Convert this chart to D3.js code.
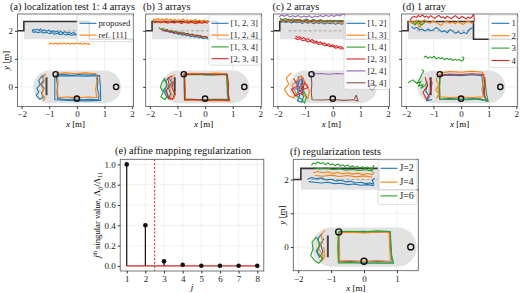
<!DOCTYPE html>
<html><head><meta charset="utf-8">
<script src="https://cdn.jsdelivr.net/npm/d3@7"></script>
<style>
body{margin:0;background:#fff}
svg{font-family:"Liberation Serif","DejaVu Serif",serif}
.tick text{fill:#222}
.tick line{stroke:#333}
</style></head><body><svg id="svg" width="520" height="293"></svg>
<script>
const C = {blue:"#1f77b4", orange:"#ff7f0e", green:"#2ca02c", red:"#d62728", purple:"#9467bd", brown:"#8c564b"};

// scene (metres)
const wall = [[-2.4,2],[-1.92,2],[-1.92,2.33],[0.45,2.33],[0.45,1.7],[2.4,1.7]];
const zone = [[-1.92,1.7],[0.45,2.33]];
const zoneMid = [[-1.6,2.0],[0.4,2.0]];
const bar = [[-1.1,0.34],[-1.1,-0.3]];
const anchors = [[-0.77,0.45],[0,-0.42],[1.42,0]];
const stadium = {x0:-1.0, x1:1.02, r:0.58};
const xTicks = [-2,-1,0,1,2];
const yTicks = [0,1,2];

// (e) singular values
const jIdx = [1,2,3,4,5,6,7,8];
const sv = [1.0,0.40,0.045,0.012,0.002,0.001,0.001,0.0005];
const jCut = 2.5;
const svTicks = [0,0.2,0.4,0.6,0.8,1.0];

// (a)
const a_proposed = [
 [[-1.62,2.0],[-1.58,2.05],[-1.52,2.02],[-1.45,2.06],[-1.38,2.01],[-1.32,2.07],[-1.25,2.0],[-1.18,2.04],[-1.1,1.98],[-1.02,2.03],[-0.95,1.96],[-0.88,2.0],[-0.8,1.95],[-0.72,1.99],[-0.65,1.93],[-0.58,1.98],[-0.5,1.92],[-0.42,1.97],[-0.35,1.91],[-0.28,1.95],[-0.2,1.9],[-0.12,1.94],[-0.04,1.89],[-0.02,1.85],[-0.1,1.87],[-0.2,1.84],[-0.3,1.88],[-0.4,1.85],[-0.5,1.9],[-0.6,1.86],[-0.7,1.91],[-0.8,1.88],[-0.9,1.93],[-1.0,1.9],[-1.1,1.95],[-1.2,1.92],[-1.3,1.97],[-1.4,1.93],[-1.5,1.97],[-1.58,1.94],[-1.62,2.0]],
 [[-1.15,0.42],[-1.28,0.38],[-1.38,0.22],[-1.33,0.08],[-1.45,-0.05],[-1.38,-0.18],[-1.47,-0.3],[-1.35,-0.44],[-1.22,-0.38],[-1.28,-0.2],[-1.18,-0.05],[-1.3,0.1],[-1.2,0.25],[-1.25,0.35]],
 [[-0.76,0.42],[-0.5,0.44],[-0.2,0.41],[0.1,0.44],[0.4,0.42],[0.72,0.44],[0.76,0.2],[0.74,-0.05],[0.8,-0.3],[0.78,-0.46],[0.5,-0.44],[0.2,-0.46],[-0.1,-0.43],[-0.4,-0.45],[-0.7,-0.42],[-0.72,-0.2],[-0.7,0.05],[-0.74,0.3],[-0.76,0.42]],
 [[-0.8,0.38],[-0.3,0.4],[0.3,0.38],[0.82,0.4],[0.85,0],[0.86,-0.48],[0.3,-0.5],[-0.3,-0.48],[-0.8,-0.46],[-0.8,0],[-0.8,0.38]]
];
const a_ref = [
 [[-1.02,1.52],[-0.93,1.56],[-0.85,1.53],[-0.76,1.57],[-0.7,1.52],[-0.61,1.56],[-0.55,1.53],[-0.46,1.57],[-0.4,1.53],[-0.31,1.56],[-0.25,1.52],[-0.16,1.56],[-0.1,1.52],[-0.01,1.57],[0.05,1.53],[0.14,1.56],[0.2,1.52],[0.28,1.56],[0.35,1.53],[0.42,1.55],[0.48,1.49]],
 [[-1.12,0.47],[-1.22,0.35],[-1.18,0.18],[-1.3,0.05],[-1.2,-0.1],[-1.28,-0.25],[-1.15,-0.38],[-1.22,-0.5]],
 [[-0.72,0.48],[-0.4,0.5],[-0.05,0.47],[0.3,0.5],[0.7,0.47],[0.72,0.2],[0.68,-0.1],[0.72,-0.38],[0.4,-0.36],[0.05,-0.39],[-0.3,-0.36],[-0.68,-0.38],[-0.7,-0.1],[-0.68,0.2],[-0.72,0.48]]
];

// (b)
const b_123 = [
 [[-1.5,2.02],[-1.42,1.97],[-1.35,2.0],[-1.27,1.94],[-1.2,1.96],[-1.12,1.9],[-1.05,1.93],[-0.97,1.87],[-0.9,1.9],[-0.82,1.84],[-0.75,1.87],[-0.67,1.82],[-0.6,1.85],[-0.52,1.79],[-0.45,1.82],[-0.37,1.77],[-0.3,1.8],[-0.22,1.74],[-0.15,1.77],[-0.07,1.72],[0.0,1.75],[0.12,1.7]],
 [[-1.3,0.35],[-1.42,0.22],[-1.38,0.05],[-1.5,-0.12],[-1.42,-0.3],[-1.32,-0.42],[-1.25,-0.25],[-1.32,-0.05],[-1.22,0.15],[-1.28,0.3]],
 [[-0.75,0.44],[-0.4,0.46],[0,0.43],[0.4,0.46],[0.8,0.43],[0.82,0.1],[0.8,-0.2],[0.85,-0.46],[0.4,-0.45],[0,-0.47],[-0.4,-0.44],[-0.74,-0.45],[-0.76,0],[-0.75,0.44]]
];
const b_124 = [
 [[-1.9,2.34],[-1.85,2.42],[-1.78,2.38],[-1.7,2.44],[-1.62,2.37],[-1.55,2.43],[-1.48,2.38],[-1.4,2.44],[-1.32,2.37],[-1.25,2.42],[-1.18,2.36],[-1.1,2.41],[-1.02,2.35],[-0.95,2.4],[-0.88,2.36],[-0.8,2.42],[-0.72,2.35],[-0.65,2.4],[-0.58,2.34],[-0.5,2.39],[-0.42,2.35],[-0.35,2.41],[-0.28,2.34],[-0.2,2.38],[-0.12,2.33],[-0.05,2.39],[0.02,2.34],[0.1,2.37],[0.06,2.3],[-0.1,2.32],[-0.25,2.28],[-0.4,2.32],[-0.55,2.29],[-0.7,2.33],[-0.85,2.28],[-1.0,2.32],[-1.15,2.29],[-1.3,2.33],[-1.45,2.29],[-1.6,2.33],[-1.75,2.3],[-1.85,2.32]],
 [[-1.1,0.45],[-1.22,0.32],[-1.18,0.12],[-1.28,-0.08],[-1.2,-0.28],[-1.3,-0.45],[-1.12,-0.4],[-1.08,-0.15]],
 [[-0.78,0.47],[-0.4,0.48],[0,0.46],[0.4,0.49],[0.78,0.46],[0.8,0.15],[0.82,-0.2],[0.9,-0.5],[0.5,-0.48],[0,-0.5],[-0.4,-0.47],[-0.72,-0.48],[-0.72,-0.1],[-0.74,0.25],[-0.78,0.47]]
];
const b_134 = [
 [[-1.68,2.12],[-1.6,2.05],[-1.52,2.09],[-1.45,2.02],[-1.37,2.05],[-1.3,1.98],[-1.22,2.02],[-1.15,1.96],[-1.07,1.99],[-1.0,1.93],[-0.92,1.96],[-0.85,1.9],[-0.77,1.94],[-0.7,1.88],[-0.62,1.91],[-0.55,1.86],[-0.47,1.89],[-0.4,1.83],[-0.32,1.86],[-0.25,1.81],[-0.17,1.84],[-0.1,1.78],[0.0,1.8],[0.1,1.76]],
 [[-1.45,0.32],[-1.55,0.18],[-1.62,0.0],[-1.52,-0.18],[-1.6,-0.35],[-1.45,-0.46],[-1.35,-0.3],[-1.45,-0.1],[-1.38,0.1],[-1.48,0.28]],
 [[-0.74,0.43],[-0.3,0.44],[0.2,0.42],[0.78,0.44],[0.8,0],[0.84,-0.44],[0.3,-0.44],[-0.3,-0.46],[-0.72,-0.43],[-0.74,0.43]]
];
const b_234 = [
 [[-1.85,2.28],[-1.75,2.33],[-1.6,2.29],[-1.5,2.34],[-1.35,2.27],[-1.25,2.32],[-1.1,2.28],[-1.0,2.33],[-0.85,2.26],[-0.75,2.31],[-0.6,2.27],[-0.5,2.32],[-0.35,2.25],[-0.25,2.3],[-0.1,2.27],[0.0,2.31],[0.1,2.27]],
 [[-1.58,2.06],[-1.5,2.0],[-1.4,2.04],[-1.32,1.97],[-1.25,1.99],[-1.15,1.93],[-1.05,1.97],[-0.95,1.9],[-0.85,1.93],[-0.75,1.87],[-0.65,1.9],[-0.55,1.84],[-0.45,1.87],[-0.35,1.81],[-0.25,1.84],[-0.15,1.78],[-0.05,1.8],[0.1,1.77]],
 [[-1.2,0.4],[-1.35,0.3],[-1.3,0.08],[-1.4,-0.15],[-1.32,-0.38],[-1.18,-0.45],[-1.1,-0.25],[-1.2,-0.02],[-1.15,0.2]],
 [[-0.76,0.46],[-0.4,0.45],[0,0.47],[0.4,0.44],[0.8,0.46],[0.85,0.1],[0.84,-0.25],[0.88,-0.48],[0.4,-0.46],[0,-0.48],[-0.4,-0.45],[-0.75,-0.47],[-0.74,-0.05],[-0.76,0.46]]
];

// (c)
const c_12 = [
 [[-1.9,2.3],[-1.8,2.35],[-1.7,2.3],[-1.6,2.34],[-1.5,2.28],[-1.4,2.33],[-1.3,2.29],[-1.2,2.32],[-1.1,2.26],[-1.0,2.31],[-0.9,2.27],[-0.8,2.31],[-0.7,2.25],[-0.6,2.3],[-0.5,2.26],[-0.4,2.3],[-0.3,2.24],[-0.2,2.29],[-0.1,2.25],[0.0,2.29],[0.1,2.23],[0.2,2.28],[0.3,2.24],[0.45,2.26]],
 [[-1.25,0.38],[-1.22,0.15],[-1.3,-0.05],[-1.2,-0.3],[-1.28,-0.5],[-1.12,-0.55],[-1.05,-0.3],[-1.15,0.0],[-1.1,0.2]]
];
const c_13 = [
 [[-1.88,2.38],[-1.78,2.33],[-1.65,2.37],[-1.52,2.32],[-1.4,2.38],[-1.28,2.31],[-1.15,2.36],[-1.02,2.3],[-0.9,2.36],[-0.78,2.29],[-0.65,2.34],[-0.52,2.29],[-0.4,2.35],[-0.28,2.28],[-0.15,2.33],[-0.02,2.28],[0.1,2.34],[0.25,2.28],[0.4,2.31]],
 [[-1.5,0.5],[-1.68,0.32],[-1.6,0.1],[-1.75,-0.1],[-1.6,-0.32],[-1.42,-0.4],[-1.35,-0.18],[-1.48,0.05],[-1.3,0.22],[-1.15,0.4],[-1.0,0.18],[-1.18,-0.05],[-1.05,-0.3],[-0.9,-0.42],[-0.85,-0.15],[-0.95,0.1]]
];
const c_14 = [
 [[-1.92,2.45],[-1.82,2.4],[-1.7,2.44],[-1.58,2.37],[-1.45,2.43],[-1.32,2.36],[-1.2,2.41],[-1.08,2.35],[-0.95,2.42],[-0.82,2.35],[-0.7,2.4],[-0.58,2.34],[-0.45,2.4],[-0.32,2.33],[-0.2,2.38],[-0.08,2.32],[0.05,2.38],[0.18,2.32],[0.3,2.36],[0.45,2.33]],
 [[-1.15,0.28],[-1.32,0.12],[-1.2,-0.12],[-1.35,-0.3],[-1.15,-0.42],[-1.02,-0.58],[-0.95,-0.35],[-1.08,-0.1]]
];
const c_23 = [
 [[-1.35,1.82],[-1.27,1.76],[-1.2,1.79],[-1.12,1.72],[-1.05,1.76],[-0.97,1.69],[-0.9,1.72],[-0.82,1.65],[-0.75,1.69],[-0.67,1.62],[-0.6,1.64],[-0.52,1.57],[-0.45,1.61],[-0.37,1.54],[-0.3,1.57],[-0.22,1.5],[-0.15,1.54],[-0.07,1.47],[0.0,1.5],[0.08,1.44],[0.15,1.47],[0.23,1.41],[0.3,1.44],[0.38,1.37],[0.45,1.39]],
 [[-1.38,1.74],[-1.28,1.69],[-1.2,1.72],[-1.1,1.65],[-1.0,1.67],[-0.9,1.6],[-0.8,1.63],[-0.7,1.56],[-0.6,1.58],[-0.5,1.51],[-0.4,1.54],[-0.3,1.47],[-0.2,1.49],[-0.1,1.43],[0.0,1.45],[0.1,1.38],[0.2,1.41],[0.3,1.35],[0.4,1.36]],
 [[-1.42,0.3],[-1.25,0.05],[-1.5,-0.08],[-1.35,-0.32],[-1.12,-0.22],[-1.02,0.15],[-0.9,-0.02],[-1.2,-0.15]]
];
const c_24 = [
 [[-1.95,2.5],[-1.85,2.56],[-1.75,2.52],[-1.65,2.57],[-1.55,2.49],[-1.45,2.54],[-1.35,2.5],[-1.25,2.55],[-1.15,2.48],[-1.05,2.53],[-0.95,2.49],[-0.85,2.54],[-0.75,2.47],[-0.65,2.53],[-0.55,2.49],[-0.45,2.55],[-0.35,2.5],[-0.25,2.56],[-0.15,2.51],[-0.05,2.56],[0.05,2.51],[0.15,2.57],[0.25,2.53],[0.35,2.59],[0.42,2.62],[0.45,2.48]],
 [[-1.45,-0.1],[-1.2,-0.02],[-1.35,0.15],[-1.1,0.3],[-1.25,-0.2],[-1.05,-0.1]],
 [[-0.75,0.46],[-0.45,0.48],[-0.15,0.45],[0.15,0.48],[0.45,0.46]]
];
const c_34 = [
 [[-1.9,2.4],[-1.75,2.37],[-1.6,2.41],[-1.45,2.36],[-1.3,2.4],[-1.15,2.35],[-1.0,2.39],[-0.85,2.34],[-0.7,2.39],[-0.55,2.34],[-0.4,2.38],[-0.25,2.33],[-0.1,2.38],[0.05,2.34],[0.2,2.37],[0.45,2.36]],
 [[-0.78,0.42],[-0.76,0.1],[-0.78,-0.2],[-0.75,-0.46],[-0.4,-0.47],[0,-0.45],[0.4,-0.48],[0.75,-0.46],[0.92,-0.5],[0.85,-0.3],[0.78,-0.42]]
];

// (d)
const d_1 = [
 [[-1.8,2.15],[-1.7,2.08],[-1.6,2.12],[-1.5,2.03],[-1.4,2.06],[-1.3,1.99],[-1.2,2.07],[-1.1,2.0],[-1.0,2.04],[-0.9,2.12],[-0.8,2.05],[-0.7,1.96],[-0.6,2.0],[-0.5,1.93],[-0.4,2.05],[-0.3,1.98],[-0.2,1.91],[-0.1,1.97],[0.0,1.89],[0.1,1.95],[0.2,1.9],[0.3,2.05],[0.42,2.12]],
 [[-1.2,0.1],[-1.28,-0.15],[-1.15,-0.35],[-1.25,-0.5],[-1.05,-0.45]],
 [[-0.78,0.4],[-0.4,0.42],[0,0.4],[0.4,0.43],[0.75,0.4],[0.8,0.0],[0.82,-0.3],[0.95,-0.5],[0.5,-0.42],[0,-0.44],[-0.4,-0.42],[-0.78,-0.44],[-0.78,0.4]]
];
const d_2 = [
 [[-1.92,2.28],[-1.82,2.36],[-1.72,2.3],[-1.62,2.38],[-1.52,2.24],[-1.42,2.33],[-1.32,2.4],[-1.22,2.3],[-1.12,2.27],[-1.02,2.35],[-0.92,2.31],[-0.82,2.25],[-0.72,2.19],[-0.62,2.3],[-0.52,2.36],[-0.42,2.27],[-0.32,2.31],[-0.22,2.25],[-0.12,2.33],[-0.02,2.27],[0.08,2.23],[0.18,2.31],[0.28,2.35],[0.38,2.27],[0.45,2.29]],
 [[-1.7,2.2],[-1.6,2.35],[-1.5,2.1],[-1.4,2.3]],
 [[-0.82,0.45],[-0.9,0.25],[-0.8,0.08],[-0.92,-0.1],[-0.8,-0.25],[-0.88,-0.4],[-0.78,-0.3],[-0.85,0.05]],
 [[-0.75,0.5],[-0.4,0.55],[0,0.52],[0.4,0.56],[0.78,0.52],[0.8,0.2],[0.76,-0.1],[0.8,-0.35],[0.4,-0.38],[0,-0.36],[-0.4,-0.38],[-0.72,-0.36]]
];
const d_3 = [
 [[-1.8,2.3],[-1.65,2.22],[-1.55,2.38],[-1.45,2.2],[-1.3,2.3]],
 [[-1.35,1.05],[-1.27,1.1],[-1.2,1.02],[-1.12,1.07],[-1.05,1.04],[-0.97,1.09],[-0.9,1.0],[-0.82,1.05],[-0.75,1.01],[-0.67,1.04],[-0.6,0.97],[-0.52,1.02],[-0.45,0.98],[-0.37,1.01],[-0.3,0.94],[-0.22,0.99],[-0.15,0.95],[-0.07,0.98],[0.0,0.92],[0.08,0.95],[0.1,1.04],[0.04,1.08]],
 [[-1.92,0.15],[-1.75,0.25],[-1.6,0.12],[-1.5,0.28],[-1.42,0.45],[-1.35,0.55],[-1.42,0.62]],
 [[-1.6,0.12],[-1.45,0.2],[-1.55,0.02],[-1.38,0.08],[-1.45,-0.05],[-1.3,0.05],[-1.22,0.18]],
 [[-0.75,0.38],[-0.78,0.0],[-0.76,-0.45],[-0.3,-0.44],[0.2,-0.46],[0.7,-0.42],[0.98,-0.52],[0.92,-0.25],[0.88,0.1],[0.86,0.35]]
];
const d_4 = [
 [[-1.85,2.38],[-1.78,2.47],[-1.7,2.52],[-1.62,2.47],[-1.55,2.55],[-1.48,2.5],[-1.4,2.57],[-1.32,2.49],[-1.25,2.53],[-1.18,2.46],[-1.1,2.54],[-1.02,2.48],[-0.95,2.44],[-0.88,2.51],[-0.8,2.55],[-0.72,2.47],[-0.65,2.5],[-0.58,2.44],[-0.5,2.52],[-0.42,2.47],[-0.35,2.43],[-0.28,2.5],[-0.2,2.54],[-0.12,2.46],[-0.05,2.44],[0.02,2.51],[0.1,2.48],[0.18,2.42],[0.25,2.49],[0.33,2.45],[0.4,2.5],[0.46,2.62],[0.48,2.35]],
 [[-1.3,0.35],[-1.22,0.05],[-1.38,-0.2],[-1.25,-0.45],[-1.12,-0.22],[-1.05,0.15],[-1.15,0.32]],
 [[-0.8,0.42],[-0.4,0.46],[0,0.44],[0.4,0.47],[0.82,0.44],[0.86,0.1],[0.84,-0.2],[0.88,-0.45]]
];

// (f)
const f_2 = [
 [[-1.72,2.0],[-1.6,2.06],[-1.45,2.02],[-1.3,2.05],[-1.15,1.99],[-1.0,2.01],[-0.85,1.96],[-0.7,1.98],[-0.55,1.93],[-0.4,1.95],[-0.25,1.9],[-0.1,1.92],[0.05,1.88],[0.2,1.9],[0.3,1.86],[0.25,1.98],[0.32,2.04]],
 [[-1.68,1.94],[-1.5,1.92],[-1.3,1.9],[-1.1,1.92],[-0.9,1.88],[-0.7,1.89],[-0.5,1.85],[-0.3,1.87],[-0.1,1.83],[0.1,1.85],[0.3,1.82]],
 [[-1.28,0.4],[-1.4,0.25],[-1.35,0.05],[-1.45,-0.12],[-1.35,-0.3],[-1.25,-0.15],[-1.32,0.1],[-1.22,0.25]],
 [[-0.76,0.44],[-0.4,0.45],[0,0.47],[0.4,0.44],[0.78,0.46],[0.8,0.1],[0.82,-0.2],[0.86,-0.45],[0.4,-0.43],[0,-0.45],[-0.4,-0.43],[-0.76,-0.44],[-0.77,0.0],[-0.76,0.44]]
];
const f_4 = [
 [[-1.55,2.2],[-1.4,2.24],[-1.25,2.2],[-1.1,2.23],[-0.95,2.18],[-0.8,2.21],[-0.65,2.17],[-0.5,2.2],[-0.35,2.16],[-0.2,2.19],[-0.05,2.15],[0.1,2.18],[0.25,2.14],[0.3,2.22]],
 [[-1.5,2.12],[-1.25,2.1],[-1.0,2.13],[-0.75,2.09],[-0.5,2.12],[-0.25,2.08],[0.0,2.11],[0.25,2.07]],
 [[-1.2,0.5],[-1.3,0.35],[-1.25,0.15],[-1.38,-0.05],[-1.25,-0.25],[-1.32,-0.42],[-1.2,-0.3],[-1.22,0.0]],
 [[-0.75,0.42],[-0.4,0.44],[0,0.42],[0.4,0.45],[0.76,0.43],[0.78,0.0],[0.8,-0.42],[0.4,-0.4],[0,-0.42],[-0.4,-0.4],[-0.74,-0.41],[-0.75,0.42]]
];
const f_6 = [
 [[-1.6,2.42],[-1.55,2.49],[-1.48,2.46],[-1.4,2.52],[-1.32,2.47],[-1.25,2.5],[-1.18,2.44],[-1.1,2.49],[-1.02,2.44],[-0.95,2.47],[-0.88,2.41],[-0.8,2.46],[-0.72,2.4],[-0.65,2.44],[-0.58,2.39],[-0.5,2.43],[-0.42,2.37],[-0.35,2.41],[-0.28,2.36],[-0.2,2.39],[-0.12,2.34],[-0.05,2.38],[0.02,2.33],[0.1,2.37],[0.18,2.32],[0.25,2.3],[0.3,2.42],[0.22,2.28]],
 [[-1.55,2.35],[-1.35,2.32],[-1.15,2.34],[-0.95,2.3],[-0.75,2.32],[-0.55,2.28],[-0.35,2.3],[-0.15,2.27],[0.05,2.29],[0.28,2.25]],
 [[-1.45,0.3],[-1.58,0.15],[-1.55,-0.05],[-1.62,-0.25],[-1.5,-0.4],[-1.38,-0.48],[-1.25,-0.35],[-1.42,-0.15],[-1.35,0.1],[-1.45,0.3]],
 [[-0.78,0.46],[-0.4,0.47],[0,0.45],[0.4,0.48],[0.8,0.46],[0.82,0.1],[0.84,-0.25],[0.9,-0.48],[0.4,-0.47],[0,-0.48],[-0.4,-0.46],[-0.78,-0.47],[-0.8,0.0],[-0.78,0.46]]
];

const svg = d3.select("#svg");
const fmt = d => (d < 0 ? "\u2212" + (-d) : String(d));

const maps = [
  {id:"a", left:17.5, top:14, w:116, h:92.5, xd:[-2.15,2.05], title:"(a) localization test 1: 4 arrays", tx:10, yLab:true,
   series:[["proposed",C.blue,a_proposed],["ref. [11]",C.orange,a_ref]], leg:{x:77, y:15, w:56, fs:8.7, dy:11.8, hl:17}},
  {id:"b", left:145.7, top:14, w:116, h:92.5, xd:[-2.15,2.05], title:"(b) 3 arrays", tx:143,
   series:[["[1, 2, 3]",C.blue,b_123],["[1, 2, 4]",C.orange,b_124],["[1, 3, 4]",C.green,b_134],["[2, 3, 4]",C.red,b_234]], leg:{x:209, y:15, w:52, fs:8.7, dy:11.8, hl:17}},
  {id:"c", left:273.4, top:14, w:116, h:92.5, xd:[-2.15,2.05], title:"(c) 2 arrays", tx:272.5,
   series:[["[1, 2]",C.blue,c_12],["[1, 3]",C.orange,c_13],["[1, 4]",C.green,c_14],["[2, 3]",C.red,c_23],["[2, 4]",C.purple,c_24],["[3, 4]",C.brown,c_34]], leg:{x:344, y:15, w:46, fs:8.7, dy:11.9, hl:19}},
  {id:"d", left:401.7, top:14, w:116, h:92.5, xd:[-2.15,2.05], title:"(d) 1 array", tx:402.5,
   series:[["1",C.blue,d_1],["2",C.orange,d_2],["3",C.green,d_3],["4",C.red,d_4]], leg:{x:489, y:15, w:28, fs:8.7, dy:12.4, hl:18}},
  {id:"f", left:293.3, top:159.3, w:125, h:111.4, xd:[-2.15,1.65], title:"(f) regularization tests", tx:290, yLab:true,
   series:[["J=2",C.blue,f_2],["J=4",C.orange,f_4],["J=6",C.green,f_6]], leg:{x:378, y:160, w:39, fs:9.8, dy:13.8, hl:17}}
];

maps.forEach(p => {
  const x = d3.scaleLinear().domain(p.xd).range([0, p.w]);
  const y = d3.scaleLinear().domain([-0.7, 2.6]).range([p.h, 0]);
  const g = svg.append("g").attr("transform", `translate(${p.left},${p.top})`);
  g.append("clipPath").attr("id", "clip" + p.id).append("rect").attr("width", p.w).attr("height", p.h);
  const inner = g.append("g").attr("clip-path", `url(#clip${p.id})`);
  const line = d3.line().x(d => x(d[0])).y(d => y(d[1]));

  inner.selectAll(".gx").data(xTicks).join("line").attr("x1", d => x(d)).attr("x2", d => x(d))
    .attr("y1", 0).attr("y2", p.h).attr("stroke", "#e9e9e9").attr("stroke-width", 0.7);
  inner.selectAll(".gy").data(yTicks).join("line").attr("y1", d => y(d)).attr("y2", d => y(d))
    .attr("x1", 0).attr("x2", p.w).attr("stroke", "#e9e9e9").attr("stroke-width", 0.7);

  const rx = x(stadium.r) - x(0), ry = y(0) - y(stadium.r);
  inner.append("path").attr("fill", "#e2e2e2")
    .attr("d", `M${x(stadium.x0)},${y(stadium.r)}L${x(stadium.x1)},${y(stadium.r)}A${rx},${ry} 0 0 1 ${x(stadium.x1)},${y(-stadium.r)}L${x(stadium.x0)},${y(-stadium.r)}A${rx},${ry} 0 0 1 ${x(stadium.x0)},${y(stadium.r)}Z`);
  inner.append("rect").attr("fill", "#e2e2e2")
    .attr("x", x(zone[0][0])).attr("y", y(zone[1][1]))
    .attr("width", x(zone[1][0]) - x(zone[0][0])).attr("height", y(zone[0][1]) - y(zone[1][1]));
  inner.append("path").attr("d", line(zoneMid)).attr("fill", "none").attr("stroke", "#a0a0a0")
    .attr("stroke-width", 0.9).attr("stroke-dasharray", "3,2");
  inner.append("path").attr("d", line(wall)).attr("fill", "none").attr("stroke", "#333").attr("stroke-width", 1.6);
  inner.append("path").attr("d", line(bar)).attr("fill", "none").attr("stroke", "#444").attr("stroke-width", 2);

  p.series.forEach(s => {
    inner.selectAll(null).data(s[2]).join("path").attr("d", line).attr("fill", "none")
      .attr("stroke", s[1]).attr("stroke-width", 1.1).attr("stroke-linejoin", "round");
  });

  inner.selectAll(".anc").data(anchors).join("circle").attr("cx", d => x(d[0])).attr("cy", d => y(d[1]))
    .attr("r", p.id === "f" ? 3 : 2.6).attr("fill", "none").attr("stroke", "#111").attr("stroke-width", 1.4);

  g.append("rect").attr("width", p.w).attr("height", p.h).attr("fill", "none").attr("stroke", "#555").attr("stroke-width", 0.8);

  const ax = g.append("g").attr("transform", `translate(0,${p.h})`)
    .call(d3.axisBottom(x).tickValues(p.id === "f" ? [-2,-1,0,1] : xTicks).tickSize(2.5).tickPadding(2).tickFormat(fmt));
  const ay = g.append("g").call(d3.axisLeft(y).tickValues(yTicks).tickSize(2.5).tickPadding(2).tickFormat(p.yLab ? fmt : ""));
  [ax, ay].forEach(a => { a.select(".domain").remove(); a.selectAll("text").attr("font-size", 9).attr("font-family", "Liberation Serif"); });

  const xl = g.append("text").attr("x", p.w / 2).attr("y", p.h + 20.5).attr("text-anchor", "middle").attr("font-size", 9);
  xl.append("tspan").attr("font-style", "italic").text("x");
  xl.append("tspan").text(" [m]");
  if (p.yLab) {
    const yl = g.append("text").attr("transform", `translate(-8.5,${p.h / 2}) rotate(-90)`).attr("text-anchor", "middle").attr("font-size", 9);
    yl.append("tspan").attr("font-style", "italic").text("y");
    yl.append("tspan").text(" [m]");
  }
  svg.append("text").attr("x", p.tx).attr("y", p.top - 4).attr("font-size", 10.3).attr("fill", "#111").text(p.title);

  const L = p.leg, n = p.series.length;
  const lg = svg.append("g").attr("transform", `translate(${L.x},${L.y})`);
  lg.append("rect").attr("width", L.w).attr("height", n * L.dy + 3).attr("rx", 2)
    .attr("fill", "#fff").attr("fill-opacity", 0.82).attr("stroke", "#d0d0d0").attr("stroke-width", 0.7);
  p.series.forEach((s, i) => {
    const yy = 8.3 + i * L.dy;
    lg.append("line").attr("x1", 2.5).attr("x2", 2.5 + L.hl).attr("y1", yy).attr("y2", yy).attr("stroke", s[1]).attr("stroke-width", 1.1);
    lg.append("text").attr("x", 4.5 + L.hl).attr("y", yy + 3).attr("font-size", L.fs).attr("fill", "#222").text(s[0]);
  });
});

// (e) stem plot
const eL = 120.2, eR = 263.8, eT = 159.3, eB = 271;
const ex = d3.scaleLinear().domain([0.65, 8.35]).range([eL, eR]);
const ey = d3.scaleLinear().domain([-0.05, 1.05]).range([eB, eT]);
const eg = svg.append("g");
eg.selectAll(".gx").data(jIdx).join("line").attr("x1", d => ex(d)).attr("x2", d => ex(d)).attr("y1", eT).attr("y2", eB)
  .attr("stroke", "#e9e9e9").attr("stroke-width", 0.7);
eg.selectAll(".gy").data(svTicks).join("line").attr("y1", d => ey(d)).attr("y2", d => ey(d)).attr("x1", eL).attr("x2", eR)
  .attr("stroke", "#e9e9e9").attr("stroke-width", 0.7);
eg.append("line").attr("x1", ex(jCut)).attr("x2", ex(jCut)).attr("y1", eT).attr("y2", eB)
  .attr("stroke", C.red).attr("stroke-width", 1).attr("stroke-dasharray", "2.2,1.6");
eg.selectAll(".stem").data(jIdx).join("line").attr("x1", d => ex(d)).attr("x2", d => ex(d))
  .attr("y1", ey(0)).attr("y2", (d, i) => ey(sv[i])).attr("stroke", "#111").attr("stroke-width", 1.2);
eg.append("line").attr("x1", ex(jIdx[0])).attr("x2", ex(jIdx[jIdx.length - 1])).attr("y1", ey(0)).attr("y2", ey(0))
  .attr("stroke", C.red).attr("stroke-width", 1.2);
eg.selectAll(".dot").data(jIdx).join("circle").attr("cx", d => ex(d)).attr("cy", (d, i) => ey(sv[i])).attr("r", 2.3).attr("fill", "#111");
eg.append("rect").attr("x", eL).attr("y", eT).attr("width", eR - eL).attr("height", eB - eT)
  .attr("fill", "none").attr("stroke", "#555").attr("stroke-width", 0.8);
const eax = eg.append("g").attr("transform", `translate(0,${eB})`).call(d3.axisBottom(ex).tickValues(jIdx).tickSize(2.5).tickPadding(2));
const eay = eg.append("g").attr("transform", `translate(${eL},0)`).call(d3.axisLeft(ey).tickValues(svTicks).tickSize(2.5).tickPadding(2).tickFormat(d3.format(".1f")));
[eax, eay].forEach(a => { a.select(".domain").remove(); a.selectAll("text").attr("font-size", 9).attr("font-family", "Liberation Serif"); });
svg.append("text").attr("x", 115).attr("y", 153.5).attr("font-size", 10.3).attr("fill", "#111").text("(e) affine mapping regularization");
svg.append("text").attr("x", (eL + eR) / 2).attr("y", eB + 19).attr("text-anchor", "middle").attr("font-size", 9)
  .attr("font-style", "italic").text("j");
const eyl = svg.append("text").attr("transform", `translate(100,${(eT + eB) / 2}) rotate(-90)`).attr("text-anchor", "middle").attr("font-size", 8.6);
eyl.append("tspan").attr("font-style", "italic").text("j");
eyl.append("tspan").attr("font-size", 6).attr("dy", -3).text("th");
eyl.append("tspan").attr("dy", 3).text(" singular value, \u039B");
eyl.append("tspan").attr("font-size", 6).attr("font-style", "italic").attr("dy", 2).text("jj");
eyl.append("tspan").attr("dy", -2).text("/\u039B");
eyl.append("tspan").attr("font-size", 6).attr("dy", 2).text("11");
</script></body></html>
